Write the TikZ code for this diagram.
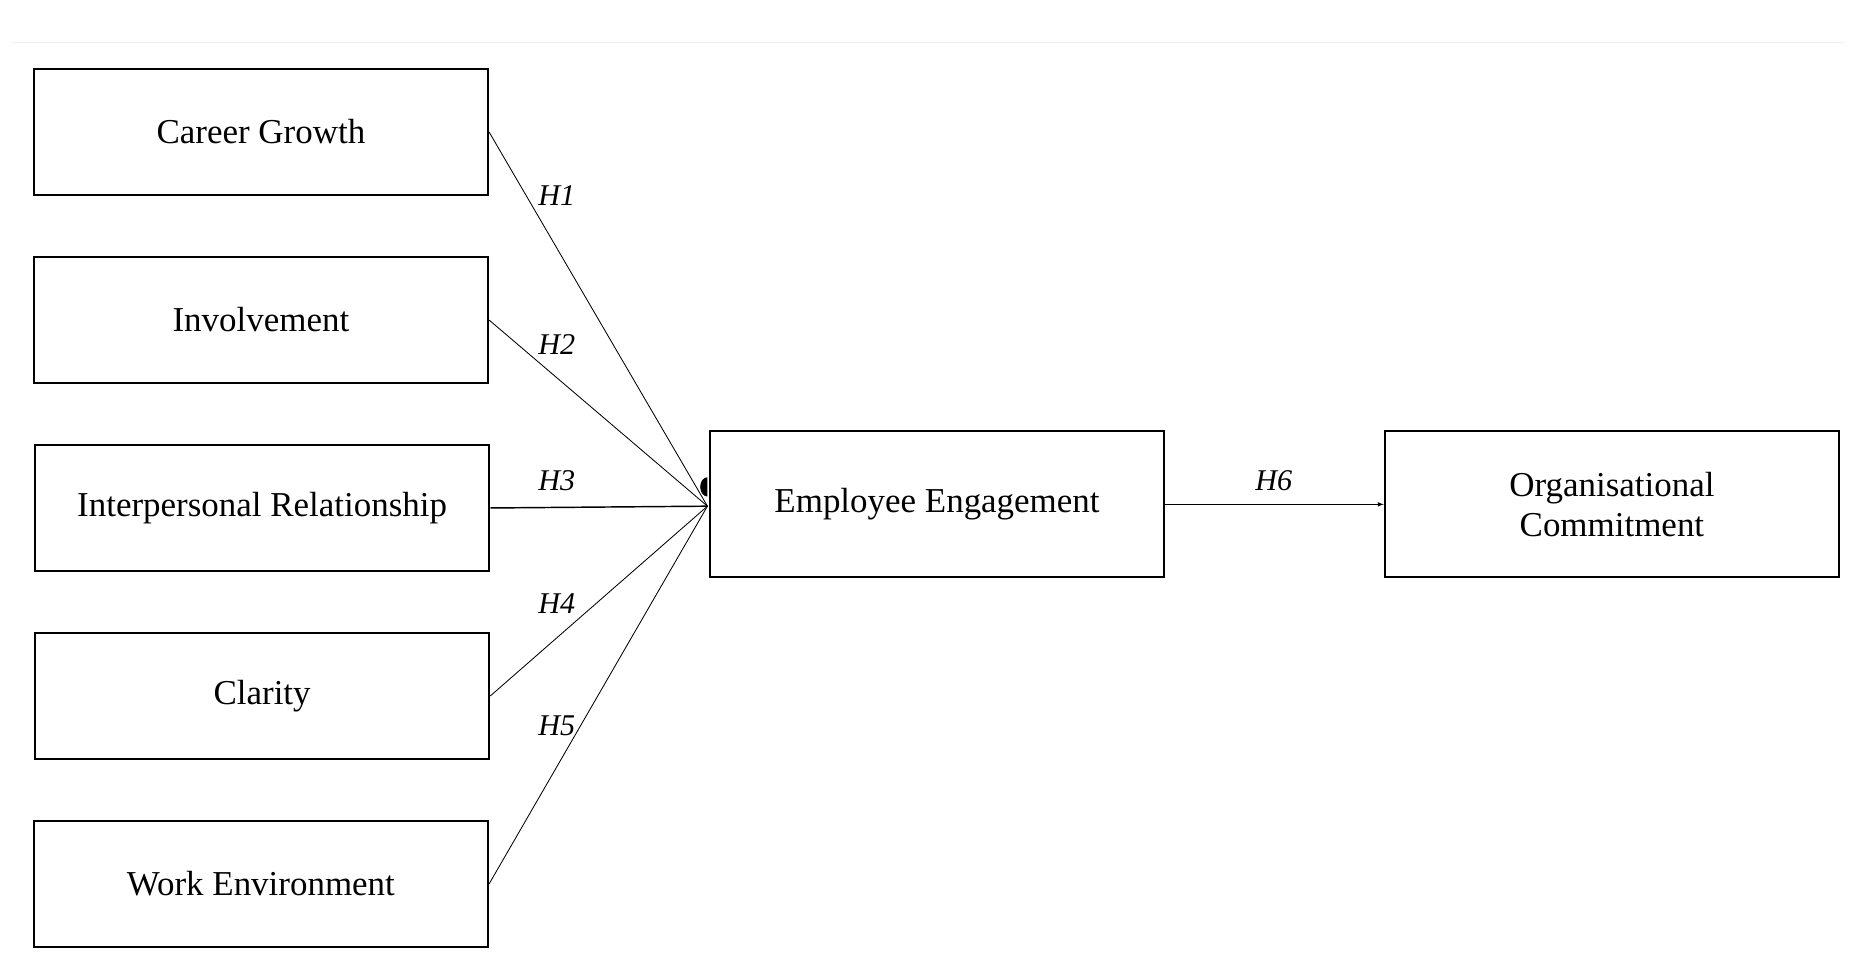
\documentclass[tikz,border=0pt]{standalone}
\usepackage{fontspec}
\setmainfont{Liberation Serif}
\begin{document}
\begin{tikzpicture}[x=1pt,y=-1pt,
  box/.style={draw,line width=1.6pt,minimum width=377pt,minimum height=105pt,font=\fontsize{29}{33}\selectfont,align=center,inner sep=0pt},
  lab/.style={font=\fontsize{25}{28}\selectfont\itshape},
  con/.style={line width=0.7pt}]
\useasboundingbox (0,0) rectangle (1550,792);
\fill[white] (0,0) rectangle (1550,792);
\draw[gray!12,line width=1pt] (10,35) -- (1530,35);
\node[box] (cg) at (216.5,109.5) {Career Growth};
\node[box] (inv) at (216.5,265.5) {Involvement};
\node[box] (ir) at (217.5,421.5) {Interpersonal Relationship};
\node[box] (cl) at (217.5,577.5) {Clarity};
\node[box] (we) at (216.5,733.5) {Work Environment};
\node[box,minimum height=121pt] (ee) at (777.5,418.5) {Employee Engagement};
\node[box,minimum height=121pt] (oc) at (1337.5,418.5) {Organisational\\Commitment};
\coordinate (j) at (587,420);
\draw[con] (cg.east) -- (j);
\draw[con] (inv.east) -- (j);
\draw[con,line width=1.2pt] (ir.east) -- (j);
\draw[con] (cl.east) -- (j);
\draw[con] (we.east) -- (j);
\fill (j) ++(0,-8) arc (90:270:6 and 8) -- cycle;
\draw[con,-latex] (ee.east) -- (oc.west);
\node[lab] (h1) at (462,162) {H1};
\node[lab] (h2) at (462,286) {H2};
\node[lab] (h3) at (462,399) {H3};
\node[lab] (h4) at (462,501) {H4};
\node[lab] (h5) at (462,602) {H5};
\node[lab] (h6) at (1057,399) {H6};
\end{tikzpicture}
\end{document}
